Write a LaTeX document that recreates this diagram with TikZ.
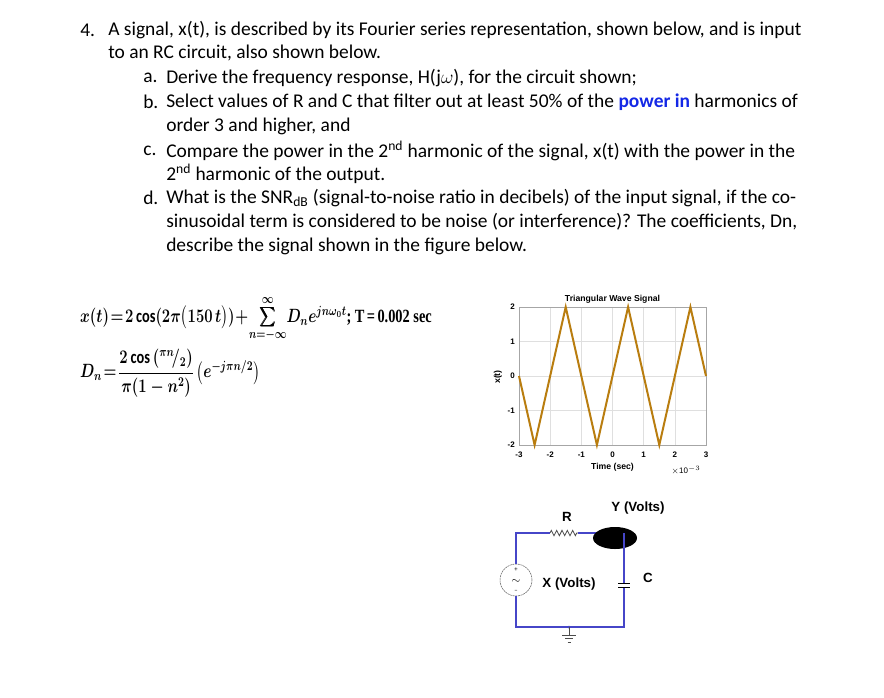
\documentclass[tikz,border=0pt]{standalone}
\usepackage{amsmath,bm}
\usepackage{fontspec}
\setmainfont{Carlito}
\newfontfamily\tms{Liberation Serif}
\newfontfamily\hel{Liberation Sans}
\usetikzlibrary{decorations.pathmorphing}
\definecolor{wire}{RGB}{70,70,200}
\definecolor{pwr}{RGB}{20,40,230}
\definecolor{wave}{RGB}{185,125,15}
\begin{document}
\begin{tikzpicture}[x=0.75pt,y=-0.75pt,
 tx/.style={anchor=west,inner sep=0pt,font=\fontsize{14.6}{17}\selectfont},
 lbl/.style={font=\hel\bfseries\fontsize{10}{12}\selectfont,inner sep=0pt},
 tick/.style={font=\hel\bfseries\fontsize{6}{6}\selectfont,inner sep=0pt},
 fm/.style={anchor=west,inner sep=0pt,font=\tms\bfseries\fontsize{14}{16}\selectfont,xscale=0.77},
 wr/.style={draw=wire,line width=0.8pt}]
\useasboundingbox (0,0) rectangle (884,697);
\node[tx] (n4) at (80,30) {4.};
\node[tx] (l1) at (108,30) {A signal, x(t), is described by its Fourier series representation, shown below, and is input};
\node[tx] (l2) at (108,53) {to an RC circuit, also shown below.};
\node[tx] (a) at (143,78) {a.};
\node[tx] (la) at (166,78) {Derive the frequency response, H(j$\omega$), for the circuit shown;};
\node[tx] (b) at (143,102) {b.};
\node[tx] (lb) at (166,102) {Select values of R and C that filter out at least 50\% of the \textcolor{pwr}{\textbf{power in}} harmonics of};
\node[tx] (lb2) at (166,126) {order 3 and higher, and};
\node[tx] (c) at (143,151) {c.};
\node[tx] (lc) at (166,151) {Compare the power in the 2\textsuperscript{nd} harmonic of the signal, x(t) with the power in the};
\node[tx] (lc2) at (166,174) {2\textsuperscript{nd} harmonic of the output.};
\node[tx] (d) at (143,198) {d.};
\node[tx] (ld) at (166,198) {What is the SNR\textsubscript{dB} (signal-to-noise ratio in decibels) of the input signal, if the co-};
\node[tx] (ld2) at (166,222) {sinusoidal term is considered to be noise (or interference)? The coefficients, Dn,};
\node[tx] (ld3) at (166,246) {describe the signal shown in the figure below.};
% formulas
\node[fm] (f1) at (80,319)
 {$\bm{x(t)\!=\!2\cos(2\pi\big(150\,t\big))\!+\!\sum\limits_{n=-\infty}^{\infty}\!D_n e^{jn\omega_0 t}}$; T\,=\,0.002 sec};
\node[fm] (f2) at (80,373)
 {$\bm{D_n\!=\!\dfrac{2\cos\left({}^{\pi n}\!/_{2}\right)}{\pi(1-n^2)}\left(e^{-j\pi n/2}\right)}$};
% plot
\begin{scope}
\foreach \i in {-3,...,3}{\draw[gray!25,line width=0.4pt] ({612.5+31.17*\i},307) -- ({612.5+31.17*\i},445);
 \node[tick] at ({612.5+31.17*\i},455) {\i};}
\foreach \j in {-2,...,2}{\draw[gray!25,line width=0.4pt] (519,{376-34.5*\j}) -- (706,{376-34.5*\j});
 \node[tick,anchor=east] at (515,{376-34.5*\j}) {\j};}
\draw[gray!70,line width=0.5pt] (519,307) rectangle (706,445);
\draw[wave,line width=1.5pt] (519,376) -- (534.6,445) -- (565.7,307) -- (596.9,445) -- (628.1,307) -- (659.3,445) -- (690.4,307) -- (706,376);
\node[lbl,font=\hel\bfseries\fontsize{6.5}{7}\selectfont] (title) at (612.5,299) {Triangular Wave Signal};
\node[lbl,font=\hel\bfseries\fontsize{6.5}{7}\selectfont] (xl) at (612.5,467) {Time (sec)};
\node[lbl,font=\hel\fontsize{6}{6}\selectfont] (ex) at (686,470) {$\times$10$^{-3}$};
\node[lbl,font=\hel\bfseries\fontsize{6.5}{7}\selectfont,rotate=90] (yl) at (498,377) {x(t)};
\end{scope}
% circuit
\coordinate (tl) at (516,533); \coordinate (r1) at (550,533); \coordinate (r2) at (578,533);
\coordinate (tr) at (624,533); \coordinate (br) at (624,627); \coordinate (bl) at (516,627);
\coordinate (gd) at (569,627);
\node[draw=gray!80!black,dash pattern=on 1.5pt off 0.5pt,circle,minimum size=24pt,inner sep=0pt] (src) at (516,580) {};
\node[font=\fontsize{8}{8}\selectfont,inner sep=0pt] at (516,581) {$\sim$};
\node[font=\fontsize{5}{5}\selectfont,inner sep=0pt] at (516,570) {+};
\node[font=\fontsize{5}{5}\selectfont,inner sep=0pt] at (516,591) {--};
\draw[wr] (src.north) -- (tl) -- (r1);
\draw[gray!60!black,line width=0.6pt,decorate,decoration={zigzag,segment length=4pt,amplitude=2pt}] (r1) -- (r2);
\draw[wr] (r2) -- (tr) -- (624,583);
\draw[wr] (624,588) -- (br) -- (bl) -- (src.south);
\draw[black,line width=0.9pt] (618,583.5) -- (630,583.5) (618,587.5) -- (630,587.5);
\fill[black] (615,538) ellipse [x radius=22, y radius=11];
\draw[wire,line width=0.8pt] (tr) -- (624,548);
\fill[wire] (gd) circle (1.5);
\draw[gray!60!black,line width=0.6pt] (gd) -- (569,635) (562,635) -- (576,635) (565,638.5) -- (573,638.5) (567.5,642) -- (570.5,642);
\node[lbl] (R) at (567,517) {R};
\node[lbl] (Y) at (638,508) {Y (Volts)};
\node[lbl] (C) at (648,578) {C};
\node[lbl] (X) at (569,584) {X (Volts)};
\end{tikzpicture}
\end{document}
